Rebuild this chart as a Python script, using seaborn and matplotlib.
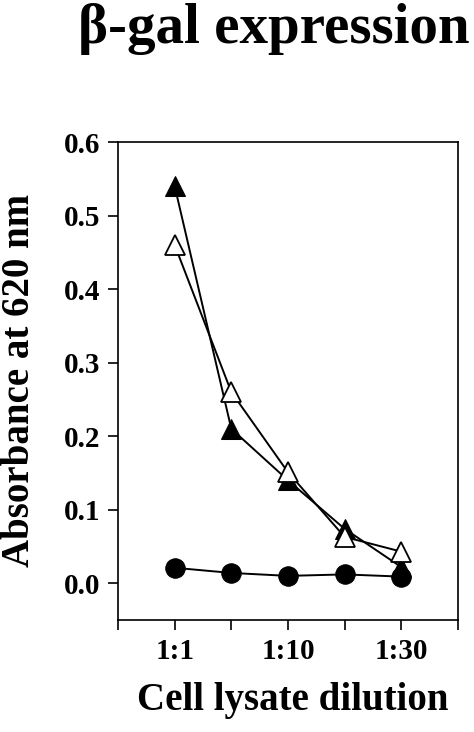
import numpy as np
import pandas as pd
import matplotlib
matplotlib.use('Agg')
import matplotlib.pyplot as plt
import seaborn as sns

# dilution steps (only 1:1, 1:10 and 1:30 are labelled on the axis)
dilutions = ['1:1', '1:5', '1:10', '1:20', '1:30']
tick_labels = ['', '1:1', '', '1:10', '', '1:30', '']

filled_tri = [0.54, 0.21, 0.14, 0.074, 0.022]
open_tri = [0.46, 0.26, 0.151, 0.063, 0.043]
circles = [0.021, 0.014, 0.010, 0.012, 0.009]

sns.set_style('white')
plt.rcParams['font.family'] = ['Liberation Serif', 'DejaVu Serif']
plt.rcParams['font.weight'] = 'bold'
plt.rcParams['text.color'] = 'black'
plt.rcParams['xtick.color'] = 'black'
plt.rcParams['ytick.color'] = 'black'

pos = np.arange(len(dilutions))
df = pd.DataFrame({'pos': pos, 'filled': filled_tri, 'open': open_tri, 'circ': circles})

fig = plt.figure(figsize=(4.74, 7.32), dpi=100)
ax = fig.add_axes([0.249, 0.153, 0.717, 0.653])

sns.lineplot(data=df, x='pos', y='filled', ax=ax, color='black', lw=1.4,
             marker='^', markersize=14, markerfacecolor='black', markeredgecolor='black')
sns.lineplot(data=df, x='pos', y='open', ax=ax, color='black', lw=1.4,
             marker='^', markersize=14, markerfacecolor='white', markeredgecolor='black',
             markeredgewidth=1.3)
sns.lineplot(data=df, x='pos', y='circ', ax=ax, color='black', lw=1.4,
             marker='o', markersize=14, markerfacecolor='black', markeredgecolor='black')

ax.set_xlim(-1, 5)
ax.set_ylim(-0.05, 0.6)
ax.set_xticks(np.arange(-1, 6))
ax.set_xticklabels(tick_labels)
ax.set_yticks([0.0, 0.1, 0.2, 0.3, 0.4, 0.5, 0.6])
ax.set_yticklabels(['0.0', '0.1', '0.2', '0.3', '0.4', '0.5', '0.6'])
ax.tick_params(axis='both', direction='out', length=7, width=1.2, labelsize=21,
               bottom=True, left=True, top=False, right=False, pad=6)
for s in ax.spines.values():
    s.set_color('black')
    s.set_linewidth(1.2)
for lab in ax.get_xticklabels() + ax.get_yticklabels():
    lab.set_fontweight('bold')

ax.set_xlabel('')
ax.set_ylabel('')
fig.text(0.042, 0.48, 'Absorbance at 620 nm', rotation=90, ha='center', va='center',
         fontsize=28, fontweight='bold')
fig.text(0.618, 0.043, 'Cell lysate dilution', ha='center', va='center',
         fontsize=28, fontweight='bold')
fig.text(0.578, 0.941, 'β-gal expression', ha='center', va='baseline',
         fontsize=41, fontweight='bold')

fig.savefig('out.png', dpi=100)
